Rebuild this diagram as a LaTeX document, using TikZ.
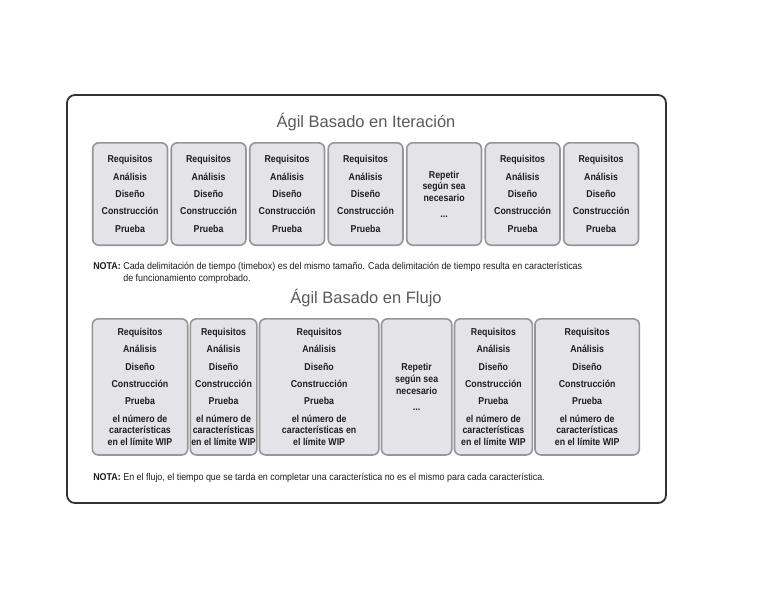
\documentclass[tikz,border=0pt]{standalone}
\usepackage{fontspec}
\setmainfont{Liberation Sans}
\newfontfamily\estrecha[FakeStretch=0.9]{Liberation Sans}
\newfontfamily\cajafuente[FakeStretch=0.88]{Liberation Sans}
\usetikzlibrary{positioning}
\definecolor{cajagris}{RGB}{228,228,232}
\definecolor{bordegris}{RGB}{150,150,152}
\definecolor{titulogris}{RGB}{90,90,90}
\definecolor{marcogris}{RGB}{50,50,50}
\definecolor{textogris}{RGB}{30,30,30}

\newcommand{\fasesit}{Requisitos\\[5.7pt]Análisis\\[5.7pt]Diseño\\[5.7pt]Construcción\\[5.7pt]Prueba}
\newcommand{\fasesfl}[1]{Requisitos\\[5.7pt]Análisis\\[5.7pt]Diseño\\[5.7pt]Construcción\\[5.7pt]Prueba\\[5.7pt]#1}
\newcommand{\repetir}{Repetir\\según sea\\necesario\\[4.3pt]...}

\begin{document}
\begin{tikzpicture}[
            x = 1pt, y = -1pt, % one unit = one pixel of the page
            node distance = 3.8pt, % gap between boxes
            semithick
        ]

        \tikzstyle{caja}=[
            draw = bordegris,
            line width = 1.6pt,
            outer sep = 0pt,
            fill = cajagris,
            rounded corners = 6pt,
            inner sep = 1pt,
            align = center,
            text = textogris,
            font = \cajafuente\bfseries\fontsize{10}{11.6}\selectfont,
            minimum width = 74.7pt,
            minimum height = 102.4pt
        ]
        \tikzstyle{flujo}=[caja, minimum height = 136.1pt]
        \tikzstyle{titulo}=[
            text = titulogris,
            font = \fontsize{16.5}{18}\selectfont
        ]
        \tikzstyle{nota}=[
            anchor = base west,
            inner sep = 0pt,
            text = textogris,
            font = \estrecha\fontsize{9.9}{11.6}\selectfont
        ]

        \useasboundingbox[fill=white] (0,0) rectangle (768,594);

        % frame
        \draw[marcogris, line width = 1.8pt, rounded corners = 8pt] (67,95) rectangle (666,503);

        % iteration level
        \node[titulo] (T1) at (366,121.7) {Ágil Basado en Iteración};

        \node[caja] (I1) at (130.1,194) {\fasesit};
        \node[caja] (I2) [right=of I1] {\fasesit};
        \node[caja] (I3) [right=of I2] {\fasesit};
        \node[caja] (I4) [right=of I3] {\fasesit};
        \node[caja] (I5) [right=of I4] {\repetir};
        \node[caja] (I6) [right=of I5] {\fasesit};
        \node[caja] (I7) [right=of I6] {\fasesit};

        \node[nota] (N1) at (93,269.7) {\textbf{NOTA:} \begin{tabular}[t]{@{}l@{}}Cada delimitación de tiempo (timebox) es del mismo tamaño. Cada delimitación de tiempo resulta en características\\de funcionamiento comprobado.\end{tabular}};

        % flow level
        \node[titulo] (T2) at (366,298.3) {Ágil Basado en Flujo};

        \node[flujo, minimum width = 95.4pt] (F1) at (140,386.9) {\fasesfl{el número de\\características\\en el límite WIP}};
        \node[flujo, minimum width = 64.4pt] (F2) [right=2.6pt of F1] {\fasesfl{el número de\\características\\en el límite WIP}};
        \node[flujo, minimum width = 119.4pt] (F3) [right=2.6pt of F2] {\fasesfl{el número de\\características en\\el límite WIP}};
        \node[flujo, minimum width = 70.4pt] (F4) [right=2.6pt of F3] {\repetir};
        \node[flujo, minimum width = 77.9pt] (F5) [right=2.6pt of F4] {\fasesfl{el número de\\características\\en el límite WIP}};
        \node[flujo, minimum width = 104.4pt] (F6) [right=2.6pt of F5] {\fasesfl{el número de\\características\\en el límite WIP}};

        \node[nota] (N2) at (93,480.3) {\textbf{NOTA:} En el flujo, el tiempo que se tarda en completar una característica no es el mismo para cada característica.};

\end{tikzpicture}
\end{document}
